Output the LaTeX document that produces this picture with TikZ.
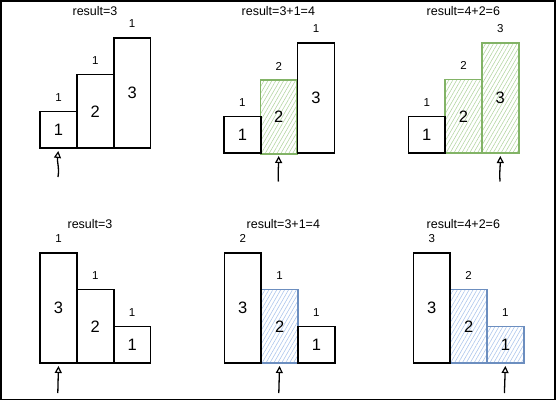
\documentclass[tikz,border=0pt]{standalone}
\usepackage{fontspec}
\setmainfont{Liberation Sans}
\usetikzlibrary{arrows.meta,patterns.meta}
\definecolor{gstroke}{HTML}{82B366}
\definecolor{ghatch}{HTML}{B5D6A4}
\definecolor{bstroke}{HTML}{6C8EBF}
\definecolor{bhatch}{HTML}{ADC6EC}
\begin{document}
\begin{tikzpicture}[x=1pt,y=-1pt,
  bar/.style={draw=black,line width=1.6pt,rectangle,inner sep=0pt,minimum width=36.8pt,anchor=south west,font=\fontsize{16.5}{16.5}\selectfont},
  gbar/.style={bar,draw=gstroke,pattern={Lines[angle=60,distance=3.4pt,line width=0.6pt]},pattern color=ghatch},
  bbar/.style={bar,draw=bstroke,pattern={Lines[angle=60,distance=3.4pt,line width=0.6pt]},pattern color=bhatch},
  h1/.style={minimum height=36.8pt},
  h2/.style={minimum height=73.6pt},
  h3/.style={minimum height=110.4pt},
  lab/.style={inner sep=0pt,font=\fontsize{11.5}{11.5}\selectfont},
  ttl/.style={inner sep=0pt,font=\fontsize{12.5}{12.5}\selectfont},
  ptr/.style={line width=1.3pt,-{Triangle[open,length=7pt,width=7pt,line width=1.2pt]}}
]
\useasboundingbox (0,0) rectangle (556,402);
\draw[line width=1.6pt] (0.9,0.9) rectangle (555,399.6);

% ---------- panel 1 ----------
\node[ttl] (t1) at (95,11) {result=3};
\node[bar,h1] (p1a) at (39.3,149) {1};
\node[bar,h2] (p1b) at (76.1,149) {2};
\node[bar,h3] (p1c) at (112.9,149) {3};
\node[lab] (p1la) at ([yshift=13.5pt]p1a.north) {1};
\node[lab] (p1lb) at ([yshift=13.5pt]p1b.north) {1};
\node[lab] (p1lc) at ([yshift=13.5pt]p1c.north) {1};
\coordinate (p1s) at (58,177);
\draw[ptr,shorten >=2pt] (p1s) .. controls (59.5,168) and (57,162) .. (p1a.south);

% ---------- panel 2 ----------
\node[ttl] (t2) at (278.3,11) {result=3+1=4};
\node[gbar,h2] (p2b) at (260,154) {2};
\node[bar,h1] (p2a) at (223.2,154) {1};
\node[bar,h3] (p2c) at (296.8,154) {3};
\node[lab] (p2la) at ([yshift=13.5pt]p2a.north) {1};
\node[lab] (p2lb) at ([yshift=13.5pt]p2b.north) {2};
\node[lab] (p2lc) at ([yshift=13.5pt]p2c.north) {1};
\coordinate (p2s) at (278.4,181.5);
\draw[ptr,shorten >=2pt] (p2s) .. controls (277.8,172) and (278.6,165) .. (p2b.south);

% ---------- panel 3 ----------
\node[ttl] (t3) at (463.3,11) {result=4+2=6};
\node[gbar,h2] (p3b) at (444.3,154) {2};
\node[gbar,h3] (p3c) at (481.1,154) {3};
\node[bar,h1] (p3a) at (407.5,154) {1};
\node[lab] (p3la) at ([yshift=13.5pt]p3a.north) {1};
\node[lab] (p3lb) at ([yshift=13.5pt]p3b.north) {2};
\node[lab] (p3lc) at ([yshift=13.5pt]p3c.north) {3};
\coordinate (p3s) at (500,181.5);
\draw[ptr,shorten >=2pt] (p3s) .. controls (499.4,172) and (500.3,165) .. (p3c.south);

% ---------- panel 4 ----------
\node[ttl] (t4) at (90,224) {result=3};
\node[bar,h3] (p4a) at (39.3,364) {3};
\node[bar,h2] (p4b) at (76.1,364) {2};
\node[bar,h1] (p4c) at (112.9,364) {1};
\node[lab] (p4la) at ([yshift=13.5pt]p4a.north) {1};
\node[lab] (p4lb) at ([yshift=13.5pt]p4b.north) {1};
\node[lab] (p4lc) at ([yshift=13.5pt]p4c.north) {1};
\coordinate (p4s) at (57.8,393);
\draw[ptr,shorten >=2pt] (p4s) -- (p4a.south);

% ---------- panel 5 ----------
\node[ttl] (t5) at (283.3,224) {result=3+1=4};
\node[bbar,h2] (p5b) at (260.4,364) {2};
\node[bar,h3] (p5a) at (223.6,364) {3};
\node[bar,h1] (p5c) at (297.2,364) {1};
\node[lab] (p5la) at ([yshift=13.5pt]p5a.north) {2};
\node[lab] (p5lb) at ([yshift=13.5pt]p5b.north) {1};
\node[lab] (p5lc) at ([yshift=13.5pt]p5c.north) {1};
\coordinate (p5s) at (278.8,393);
\draw[ptr,shorten >=2pt] (p5s) -- (p5b.south);

% ---------- panel 6 ----------
\node[ttl] (t6) at (463.3,224) {result=4+2=6};
\node[bbar,h2] (p6b) at (449.4,364) {2};
\node[bbar,h1] (p6c) at (486.2,364) {1};
\node[bar,h3] (p6a) at (412.6,364) {3};
\node[lab] (p6la) at ([yshift=13.5pt]p6a.north) {3};
\node[lab] (p6lb) at ([yshift=13.5pt]p6b.north) {2};
\node[lab] (p6lc) at ([yshift=13.5pt]p6c.north) {1};
\coordinate (p6s) at (504.4,393);
\draw[ptr,shorten >=2pt] (p6s) -- (p6c.south);
\end{tikzpicture}
\end{document}
